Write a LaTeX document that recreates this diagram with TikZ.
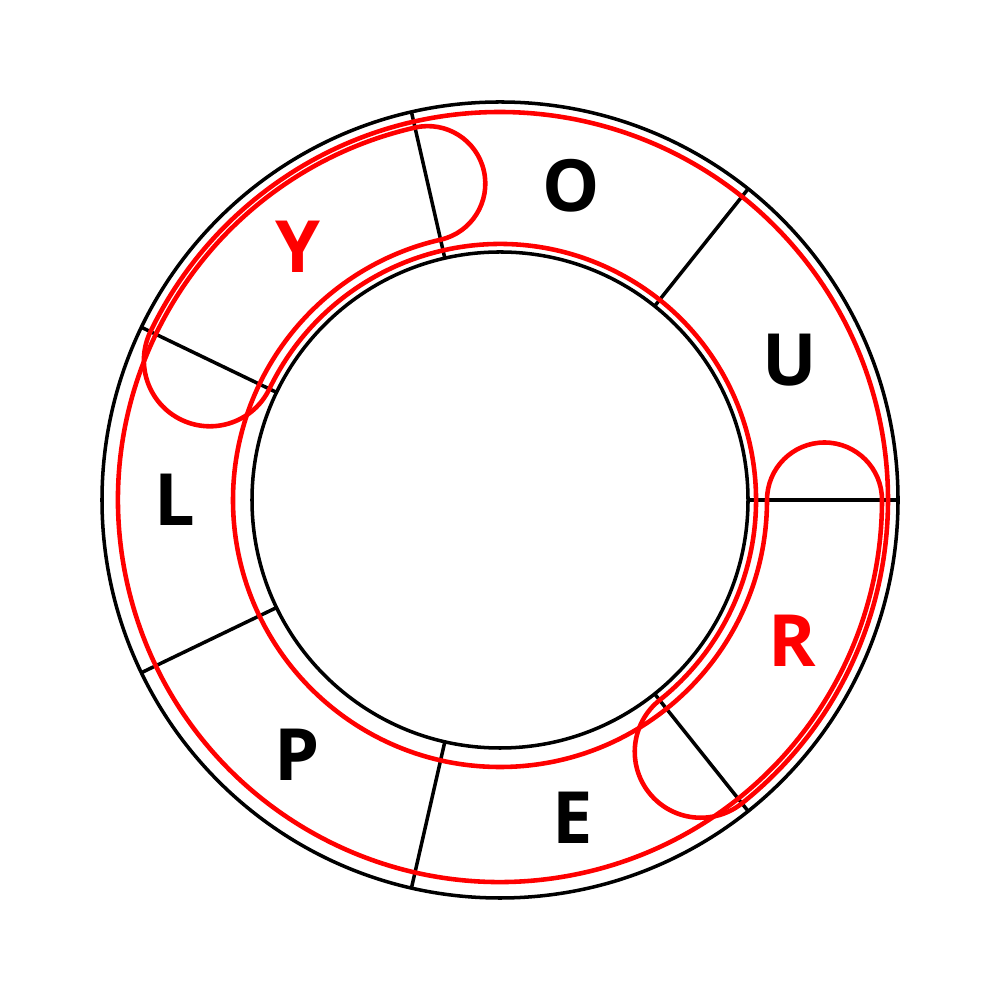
\documentclass[tikz,border=0pt]{standalone}
\usepackage{fontspec}
\setmainfont{Open Sans}
\usetikzlibrary{positioning}
\tikzstyle{ring} = [
draw=black,
line width=1pt
]
\tikzstyle{band} = [
draw=red,
line width=1.3pt
]
\tikzstyle{letter} = [
font=\bfseries\fontsize{20.5}{24}\selectfont,
text=black
]
\tikzstyle{hit} = [
letter,
text=red
]
\begin{document}
\begin{tikzpicture}
	\useasboundingbox (-5,-5) rectangle (5,5);
	
	% the ring and its seven fields
	\draw[ring] (0,0) circle (3.98);
	\draw[ring] (0,0) circle (2.48);
	\draw[ring] (0:2.48) -- (0:3.98);
	\draw[ring] (51.4286:2.48) -- (51.4286:3.98);
	\draw[ring] (102.857:2.48) -- (102.857:3.98);
	\draw[ring] (154.286:2.48) -- (154.286:3.98);
	\draw[ring] (205.714:2.48) -- (205.714:3.98);
	\draw[ring] (257.143:2.48) -- (257.143:3.98);
	\draw[ring] (308.571:2.48) -- (308.571:3.98);
	
	% letters
	\node[letter] (o) at (77.14:3.22) {O};
	\node[letter] (u) at (25.71:3.22) {U};
	\node[hit] (r) at (-25.71:3.24) {R};
	\node[letter] (e) at (-77.14:3.26) {E};
	\node[letter] (p) at (-128.57:3.26) {P};
	\node[letter] (l) at (180:3.25) {L};
	\node[hit] (y) at (128.57:3.24) {Y};
	
	% band from Y round to R
	\draw[band] (102.857:3.82)
		arc[start angle=102.857, end angle=360, radius=3.82]
		arc[start angle=0, end angle=180, radius=0.575]
		arc[start angle=360, end angle=102.857, radius=2.67]
		arc[start angle=282.857, end angle=462.857, radius=0.575] -- cycle;
	
	% band from R back round to Y
	\draw[band] (-51.4286:3.88)
		arc[start angle=-51.4286, end angle=154.286, radius=3.88]
		arc[start angle=154.286, end angle=334.286, radius=0.66]
		arc[start angle=154.286, end angle=-51.4286, radius=2.56]
		arc[start angle=128.571, end angle=308.571, radius=0.66] -- cycle;
\end{tikzpicture}
\end{document}
